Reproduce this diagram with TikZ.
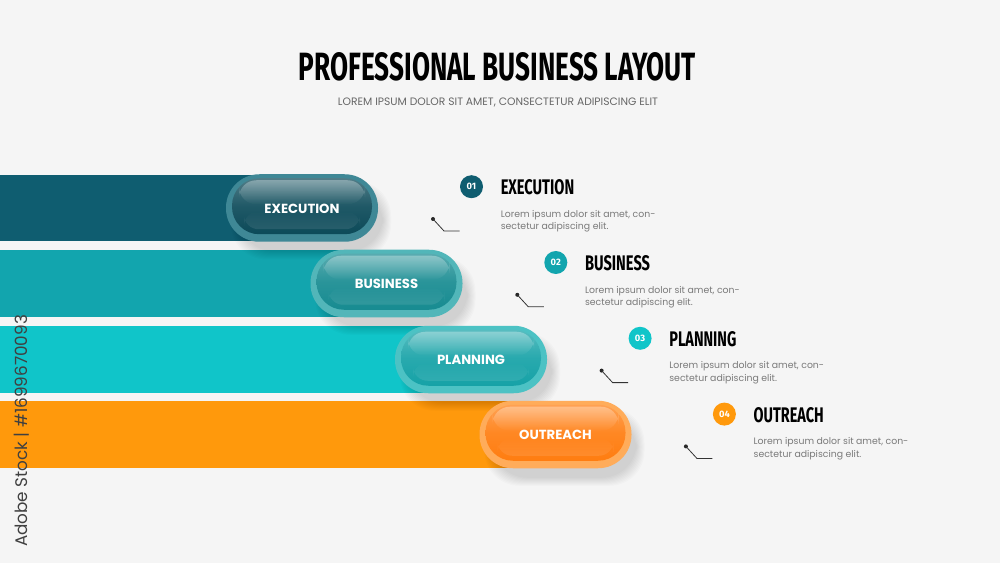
\documentclass[tikz,border=0pt]{standalone}
\usepackage{fontspec}
\setmainfont{Poppins}
\newfontfamily\headfont{Fira Sans}
\usetikzlibrary{fadings,calc}
\definecolor{bg}{HTML}{F5F5F5}
\definecolor{bandA}{HTML}{0F5D70}
\definecolor{ringA}{HTML}{3F8896}
\definecolor{innerA}{HTML}{0C4A59}
\definecolor{bandB}{HTML}{12A5AE}
\definecolor{ringB}{HTML}{52B6B9}
\definecolor{innerB}{HTML}{178B91}
\definecolor{bandC}{HTML}{10C5C9}
\definecolor{ringC}{HTML}{4CC2C4}
\definecolor{innerC}{HTML}{16A2A7}
\definecolor{bandD}{HTML}{FF990C}
\definecolor{ringD}{HTML}{FFAC5A}
\definecolor{innerD}{HTML}{FF7D10}
\definecolor{bodygray}{HTML}{7A7A7A}
\definecolor{subgray}{HTML}{666666}
\tikzset{
  bandstyle/.style={fill=#1},
  numdot/.style={circle, fill=#1, minimum size=17.25pt, inner sep=0pt, text=white, font=\headfont\bfseries\fontsize{7}{8}\selectfont},
  headtxt/.style={anchor=west, inner sep=0pt, text=black},
  bodytxt/.style={anchor=north west, inner sep=0pt, text=bodygray, align=left, font=\fontsize{7}{9.2}\selectfont},
  pilltxt/.style={text=white, font=\fontsize{9.9}{11}\selectfont\bfseries, inner sep=0pt},
  leader/.style={draw=black!80, line width=0.6pt},
  leaddot/.style={circle, fill=black!85, inner sep=0pt, minimum size=3pt}
}
% #1 left x, #2 top y, #3 ring, #4 inner, #5 name, #6 text
\newcommand\mypill[6]{%
  \foreach \k in {1,...,9}{
    \fill[black, fill opacity=0.017, rounded corners=26pt] ($(#1,#2)+(14-\k,16-\k)$) rectangle ($(#1,#2)+(156+\k,76+\k)$);
  }
  \fill[#3, rounded corners=25pt] (#1,#2) rectangle ++(152,67.5);
  \shade[top color=#4!72!white, bottom color=#4, middle color=#4!92!white, rounded corners=20.5pt] ($(#1,#2)+(6,4)$) rectangle ++(140,56);
  \fill[white, fill opacity=0.32, path fading=south, rounded corners=13pt] ($(#1,#2)+(13,6)$) rectangle ++(126,24);
  \fill[white, fill opacity=0.10, path fading=north, rounded corners=11pt] ($(#1,#2)+(18,37)$) rectangle ++(116,18);
  \node[pilltxt] (#5) at ($(#1,#2)+(76,34.5)$) {#6};
}
\begin{document}
\begin{tikzpicture}[x=0.75pt, y=-0.75pt]
\useasboundingbox (0,0) rectangle (1000,563);
\fill[bg] (0,0) rectangle (1000,563);

% title
\node[inner sep=0pt] (title) at (497.5,66.7) {\resizebox{297.75pt}{21pt}{\headfont\bfseries PROFESSIONAL BUSINESS LAYOUT}};
\node[inner sep=0pt, text=subgray] (subtitle) at (498,102.6) {\resizebox{240pt}{!}{\fontsize{7.5}{9}\selectfont LOREM IPSUM DOLOR SIT AMET, CONSECTETUR ADIPISCING ELIT}};

% bands
\fill[bandstyle=bandA] (0,175) rectangle (300,241);
\fill[bandstyle=bandB] (0,250) rectangle (385,317);
\fill[bandstyle=bandC] (0,326) rectangle (470,393);
\fill[bandstyle=bandD] (0,401) rectangle (554,468);

% pills
\mypill{226}{174.25}{ringA}{innerA}{p1}{EXECUTION}
\mypill{310.5}{249.75}{ringB}{innerB}{p2}{BUSINESS}
\mypill{395}{325.75}{ringC}{innerC}{p3}{PLANNING}
\mypill{479.5}{400.75}{ringD}{innerD}{p4}{OUTREACH}

% items
\foreach \i/\c/\n/\h/\w in {0/bandA/01/EXECUTION/55.1pt, 1/bandB/02/BUSINESS/48.75pt, 2/bandC/03/PLANNING/50.25pt, 3/bandD/04/OUTREACH/52.5pt}{
  \pgfmathsetmacro\dx{84.3*\i}
  \pgfmathsetmacro\dy{75.8*\i}
  \node[numdot=\c] (n\n) at (471.5+\dx,186.7+\dy) {\n};
  \node[headtxt] (h\n) at (500.5+\dx,187.5+\dy) {\resizebox{\w}{11.25pt}{\headfont\bfseries \h}};
  \node[bodytxt] (b\n) at (500.5+\dx,210+\dy) {Lorem ipsum dolor sit amet, con-\\sectetur adipiscing elit.};
  \node[leaddot] (d\n) at (433+\dx,219+\dy) {};
  \coordinate (k\n) at (444+\dx,231+\dy);
  \coordinate (e\n) at (459.5+\dx,231+\dy);
  \draw[leader] (d\n.center) -- (k\n) -- (e\n);
}

% vertical credit
\node[rotate=90, text=black!75, inner sep=0pt, font=\fontsize{12.6}{14}\selectfont] (credit) at (22,431) {Adobe Stock | \#1699670093};
\end{tikzpicture}
\end{document}
